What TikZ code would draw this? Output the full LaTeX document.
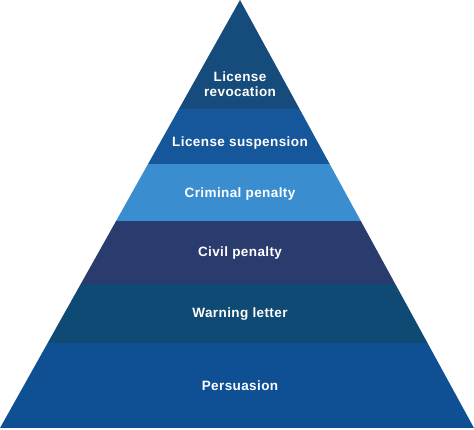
\documentclass[tikz,border=0pt]{standalone}
\usepackage{fontspec}
\setmainfont{Liberation Sans}[LetterSpace=3]
\usepackage{tikz}
\definecolor{revcol}{HTML}{164C7C}
\definecolor{suscol}{HTML}{16579C}
\definecolor{crimcol}{HTML}{3A8ECF}
\definecolor{civcol}{HTML}{2A3B6E}
\definecolor{warncol}{HTML}{0E4A73}
\definecolor{perscol}{HTML}{0F5095}

\begin{document}
\begin{tikzpicture}[x=1pt,y=-1pt,line cap=round,line join=round,
  tier/.style={font=\bfseries\fontsize{13.5}{15.5}\selectfont,text=white,align=center}]
  \useasboundingbox (0,0) rectangle (474,429);
  \begin{scope}
    \clip (240,0) -- (474,428) -- (0,428) -- cycle;
    \fill[revcol] (0,0) rectangle (474,109);
    \fill[suscol] (0,109) rectangle (474,164);
    \fill[crimcol] (0,164) rectangle (474,221);
    \fill[civcol] (0,221) rectangle (474,284);
    \fill[warncol] (0,284) rectangle (474,343);
    \fill[perscol] (0,343) rectangle (474,428);
  \end{scope}
  \node[tier] (revocation) at (240,84) {License\\revocation};
  \node[tier] (suspension) at (240,143) {License suspension};
  \node[tier] (criminal) at (240,194) {Criminal penalty};
  \node[tier] (civil) at (240,253) {Civil penalty};
  \node[tier] (warning) at (240,314) {Warning letter};
  \node[tier] (persuasion) at (240,386) {Persuasion};
\end{tikzpicture}
\end{document}
